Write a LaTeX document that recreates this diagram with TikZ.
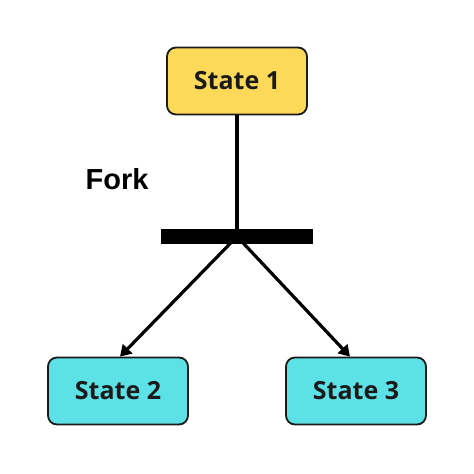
\documentclass[tikz,border=0pt]{standalone}
\usepackage{fontspec}
\setmainfont{Open Sans}
\newfontfamily\forkfont{Liberation Sans}
\usetikzlibrary{arrows.meta}
\definecolor{sy}{HTML}{FDD95A}
\definecolor{sc}{HTML}{5CE1E6}
\definecolor{bd}{HTML}{1A1A1A}
\begin{document}
\begin{tikzpicture}[x=1pt,y=-1pt,
  statebox/.style={draw=bd,line width=1.8pt,rounded corners=9pt,minimum width=140pt,minimum height=67pt,inner sep=0pt,font=\fontsize{25}{28}\selectfont\bfseries,text=bd},
  conn/.style={line width=3.2pt,black},
  arr/.style={conn,-{Triangle[length=11pt,width=13pt]}}]
\useasboundingbox (0,0) rectangle (474,474);
\fill[white] (0,0) rectangle (474,474);
\node[statebox,fill=sy] (s1) at (237,81) {State 1};
\node[statebox,fill=sc] (s2) at (118,391) {State 2};
\node[statebox,fill=sc] (s3) at (356,391) {State 3};
\node[fill=black,minimum width=152pt,minimum height=15pt,inner sep=0pt] (fork) at (237,236.5) {};
\node[font=\forkfont\fontsize{29}{32}\selectfont\bfseries] (lbl) at (117,179) {Fork};
\draw[conn] (s1.south) -- (fork.north);
\draw[arr] (fork.center) -- ([xshift=2pt]s2.north);
\draw[arr] (fork.center) -- ([xshift=-6pt]s3.north);
\end{tikzpicture}
\end{document}
